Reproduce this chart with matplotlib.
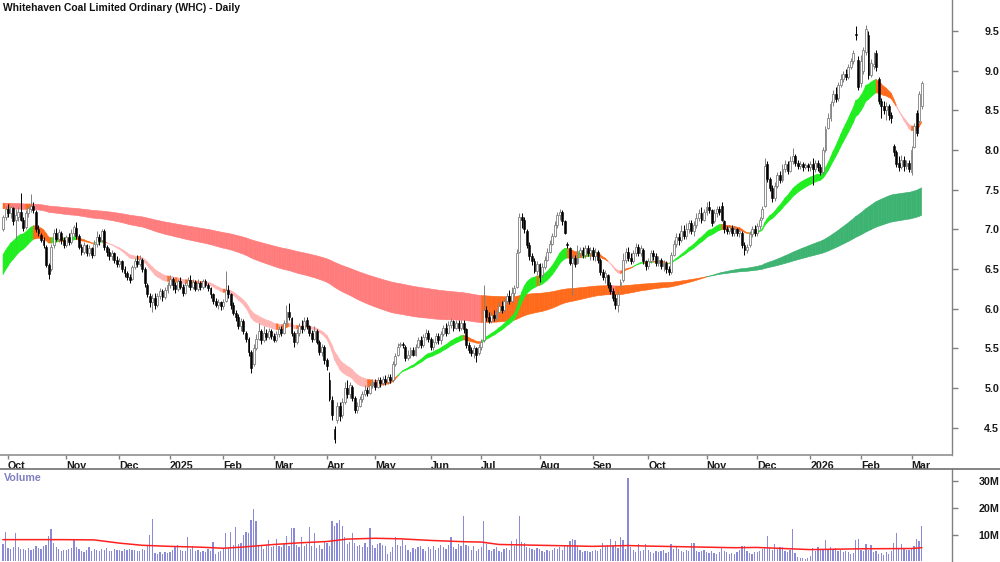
import numpy as np
import pandas as pd
import matplotlib.pyplot as plt
from matplotlib.collections import PolyCollection
from matplotlib.lines import Line2D

TITLE = "Whitehaven Coal Limited Ordinary (WHC) - Daily"
START = "2024-09-27"
END = "2026-03-06"
ASX_HOLIDAYS = ["2024-12-25", "2024-12-26", "2025-01-01", "2025-01-27", "2025-04-18",
                "2025-04-21", "2025-04-25", "2025-06-09", "2025-12-25", "2025-12-26",
                "2026-01-01", "2026-01-26"]

month_labels = ["Oct", "Nov", "Dec", "2025", "Feb", "Mar", "Apr", "May", "Jun", "Jul",
                "Aug", "Sep", "Oct", "Nov", "Dec", "2026", "Feb", "Mar"]

opens = [
    7.00, 7.15, 7.26, 7.20, 7.27, 7.12, 7.16, 7.22, 7.12, 7.03, 7.20, 7.26, 7.30,
    7.22, 7.00, 6.93, 6.86, 6.78, 6.55, 6.50, 6.80, 6.95, 6.88, 6.96, 6.86,
    6.80, 6.90, 6.84, 6.96, 7.02, 6.92, 6.78, 6.72, 6.80, 6.70, 6.76, 6.68, 6.82, 6.90, 6.86, 6.98, 6.78, 6.72, 6.66, 6.70, 6.62,
    6.56, 6.60, 6.50, 6.45, 6.40, 6.38, 6.52, 6.60, 6.56, 6.62, 6.50, 6.30, 6.16, 6.08, 6.14, 6.05, 6.16, 6.22, 6.15, 6.24,
    6.30, 6.38, 6.30, 6.25, 6.35, 6.28, 6.20, 6.30, 6.36, 6.28, 6.34, 6.25, 6.32, 6.28, 6.35, 6.30, 6.26, 6.18, 6.10, 6.05, 6.08,
    6.04, 6.10, 6.24, 6.18, 6.05, 5.95, 5.90, 5.78, 5.85, 5.70, 5.62, 5.45, 5.30, 5.50, 5.62, 5.72, 5.60, 5.70, 5.64, 5.72,
    5.66, 5.60, 5.68, 5.74, 5.70, 5.82, 5.96, 5.88, 5.70, 5.58, 5.70, 5.78, 5.74, 5.86, 5.78, 5.70, 5.62, 5.72, 5.58, 5.45, 5.52,
    5.36, 5.10, 4.85, 4.48, 4.60, 4.78, 4.66, 4.82, 5.00, 4.92, 5.02, 4.88, 4.72, 4.78, 4.86, 4.92, 4.98, 4.94, 5.04,
    5.08, 5.02, 5.10, 5.06, 5.12, 5.08, 5.14, 5.10, 5.30, 5.42, 5.54, 5.55, 5.52, 5.38, 5.42, 5.48, 5.42, 5.52, 5.60, 5.54, 5.64, 5.70,
    5.62, 5.52, 5.58, 5.66, 5.60, 5.68, 5.76, 5.70, 5.80, 5.84, 5.76, 5.82, 5.76, 5.82, 5.74, 5.54, 5.48, 5.44, 5.50, 5.44,
    5.52, 5.60, 5.98, 5.90, 5.84, 5.92, 5.88, 5.96, 6.04, 5.98, 6.10, 6.16, 6.10, 6.20, 6.28, 6.72, 7.15, 7.12, 6.98, 6.80, 6.66, 6.60, 6.48,
    6.56, 6.42, 6.52, 6.62, 6.72, 6.82, 6.92, 7.05, 7.18, 7.22, 7.10, 6.82, 6.76, 6.58, 6.64, 6.58, 6.70, 6.74, 6.68, 6.76, 6.70,
    6.74, 6.66, 6.72, 6.62, 6.46, 6.40, 6.42, 6.30, 6.22, 6.14, 6.05, 6.30, 6.36, 6.62, 6.72, 6.64, 6.60, 6.70, 6.78, 6.70, 6.74, 6.60,
    6.54, 6.60, 6.70, 6.66, 6.58, 6.62, 6.54, 6.58, 6.50, 6.46, 6.68, 6.82, 6.90, 6.86, 6.98, 6.92, 7.00, 7.08, 6.98, 7.06, 7.14, 7.20, 7.12,
    7.22, 7.28, 7.24, 7.10, 7.20, 7.26, 7.30, 7.10, 7.00, 6.98, 7.02, 6.96, 7.00, 6.95, 6.96, 6.80, 6.74, 6.80, 6.94, 7.00,
    6.96, 7.04, 7.14, 7.30, 7.82, 7.64, 7.52, 7.40, 7.55, 7.68, 7.62, 7.76, 7.82, 7.74, 7.86, 7.92, 7.84, 7.80, 7.82, 7.78, 7.81,
    7.78, 7.82, 7.76, 7.84, 7.78, 7.72, 8.00, 8.28, 8.40, 8.60, 8.70, 8.66, 8.82, 8.90, 8.96, 8.92, 9.04, 9.12, 9.46, 9.14,
    8.84, 9.00, 9.24, 9.45, 8.95, 9.06, 9.22, 8.90, 8.62, 8.55, 8.50, 8.55, 8.44, 8.05, 7.98, 7.84, 7.78, 7.88, 7.80, 7.84,
    7.72, 8.04, 8.46, 8.36, 8.55]

highs = [
    7.18, 7.30, 7.32, 7.30, 7.28, 7.26, 7.28, 7.46, 7.15, 7.24, 7.30, 7.44, 7.34,
    7.24, 7.05, 6.95, 6.90, 6.80, 6.58, 6.82, 7.00, 7.02, 7.00, 6.98, 6.90,
    6.93, 6.95, 7.00, 7.06, 7.09, 6.94, 6.82, 6.84, 6.82, 6.80, 6.78, 6.86, 6.98, 6.94, 7.00, 7.00, 6.80, 6.76, 6.74, 6.72, 6.66,
    6.64, 6.62, 6.54, 6.48, 6.44, 6.55, 6.64, 6.68, 6.68, 6.64, 6.52, 6.32, 6.20, 6.18, 6.20, 6.20, 6.26, 6.25, 6.28, 6.34,
    6.42, 6.40, 6.34, 6.38, 6.40, 6.31, 6.34, 6.40, 6.42, 6.37, 6.36, 6.38, 6.35, 6.38, 6.38, 6.33, 6.28, 6.20, 6.14, 6.12, 6.10,
    6.12, 6.47, 6.30, 6.20, 6.08, 5.99, 5.93, 5.88, 5.87, 5.72, 5.64, 5.48, 5.55, 5.68, 5.82, 5.75, 5.78, 5.74, 5.76, 5.75,
    5.70, 5.72, 5.78, 5.78, 5.86, 6.05, 6.07, 5.90, 5.72, 5.74, 5.82, 5.86, 5.90, 5.90, 5.80, 5.73, 5.78, 5.74, 5.60, 5.56, 5.54,
    5.38, 5.20, 4.90, 4.52, 4.82, 4.82, 4.88, 5.08, 5.10, 5.08, 5.04, 4.90, 4.82, 4.90, 4.96, 5.04, 5.02, 5.08, 5.12,
    5.12, 5.14, 5.14, 5.15, 5.16, 5.18, 5.18, 5.34, 5.44, 5.57, 5.58, 5.58, 5.54, 5.48, 5.52, 5.52, 5.56, 5.64, 5.66, 5.68, 5.74, 5.73,
    5.64, 5.62, 5.70, 5.70, 5.72, 5.80, 5.82, 5.84, 5.88, 5.86, 5.86, 5.86, 5.86, 5.86, 5.76, 5.58, 5.52, 5.54, 5.52, 5.56,
    5.62, 6.30, 6.04, 5.96, 5.96, 5.98, 6.00, 6.08, 6.10, 6.14, 6.20, 6.24, 6.28, 6.30, 6.75, 7.20, 7.20, 7.16, 7.00, 6.84, 6.70, 6.64, 6.60,
    6.58, 6.58, 6.66, 6.76, 6.86, 6.96, 7.10, 7.22, 7.26, 7.25, 7.12, 6.84, 6.78, 6.68, 6.68, 6.80, 6.78, 6.78, 6.80, 6.80, 6.78,
    6.78, 6.76, 6.74, 6.64, 6.50, 6.49, 6.44, 6.34, 6.26, 6.18, 6.22, 6.38, 6.70, 6.76, 6.78, 6.70, 6.74, 6.83, 6.82, 6.80, 6.76, 6.62,
    6.64, 6.74, 6.74, 6.70, 6.66, 6.64, 6.62, 6.60, 6.54, 6.72, 6.86, 6.96, 6.96, 7.06, 7.06, 7.08, 7.12, 7.12, 7.10, 7.20, 7.26, 7.28, 7.26,
    7.34, 7.36, 7.26, 7.26, 7.30, 7.30, 7.34, 7.12, 7.04, 7.06, 7.05, 7.04, 7.02, 7.02, 6.98, 6.84, 6.82, 6.98, 7.04, 7.06,
    7.08, 7.16, 7.30, 7.90, 7.86, 7.66, 7.56, 7.60, 7.72, 7.74, 7.82, 7.88, 7.86, 7.92, 8.03, 7.95, 7.88, 7.86, 7.85, 7.84, 7.84,
    7.86, 7.90, 7.88, 7.88, 7.82, 8.04, 8.30, 8.46, 8.62, 8.75, 8.80, 8.86, 8.96, 9.00, 9.02, 9.08, 9.16, 9.26, 9.56, 9.18,
    9.20, 9.30, 9.58, 9.50, 9.15, 9.24, 9.26, 8.92, 8.66, 8.62, 8.60, 8.58, 8.48, 8.08, 8.00, 7.92, 7.94, 7.92, 7.88, 7.88,
    8.05, 8.34, 8.50, 8.74, 8.87]

lows = [
    6.98, 7.12, 7.15, 7.14, 7.05, 6.88, 7.10, 7.10, 6.98, 7.00, 7.16, 7.22, 7.20,
    6.97, 6.92, 6.84, 6.76, 6.52, 6.38, 6.48, 6.76, 6.85, 6.84, 6.82, 6.76,
    6.78, 6.80, 6.82, 6.92, 6.88, 6.75, 6.68, 6.69, 6.66, 6.67, 6.64, 6.66, 6.78, 6.80, 6.84, 6.74, 6.66, 6.62, 6.62, 6.58, 6.52,
    6.52, 6.46, 6.40, 6.36, 6.33, 6.36, 6.50, 6.52, 6.54, 6.46, 6.28, 6.15, 6.02, 5.96, 6.00, 6.02, 6.12, 6.10, 6.12, 6.20,
    6.26, 6.24, 6.20, 6.22, 6.25, 6.16, 6.18, 6.27, 6.24, 6.25, 6.22, 6.22, 6.24, 6.25, 6.27, 6.22, 6.14, 6.06, 6.02, 6.00, 5.98,
    6.00, 6.08, 6.14, 6.00, 5.92, 5.85, 5.74, 5.72, 5.68, 5.58, 5.40, 5.19, 5.28, 5.48, 5.60, 5.55, 5.58, 5.60, 5.62, 5.62,
    5.58, 5.58, 5.64, 5.66, 5.68, 5.80, 5.86, 5.66, 5.52, 5.55, 5.66, 5.70, 5.72, 5.74, 5.66, 5.58, 5.60, 5.55, 5.42, 5.40, 5.30,
    5.23, 4.84, 4.60, 4.31, 4.56, 4.58, 4.62, 4.80, 4.88, 4.88, 4.84, 4.68, 4.68, 4.76, 4.82, 4.90, 4.90, 4.92, 5.00,
    4.98, 5.00, 5.02, 5.04, 5.04, 5.05, 5.06, 5.08, 5.28, 5.40, 5.52, 5.50, 5.34, 5.35, 5.38, 5.40, 5.40, 5.50, 5.50, 5.52, 5.60, 5.58,
    5.48, 5.48, 5.55, 5.56, 5.56, 5.66, 5.66, 5.68, 5.76, 5.72, 5.74, 5.72, 5.73, 5.70, 5.50, 5.44, 5.40, 5.38, 5.33, 5.42,
    5.48, 5.58, 5.85, 5.82, 5.82, 5.84, 5.86, 5.94, 5.95, 5.96, 6.06, 6.06, 6.08, 6.16, 6.26, 6.70, 7.02, 6.96, 6.76, 6.62, 6.55, 6.45, 6.42,
    6.34, 6.40, 6.50, 6.60, 6.70, 6.80, 6.90, 7.02, 7.12, 7.06, 6.94, 6.76, 6.55, 6.17, 6.52, 6.56, 6.66, 6.64, 6.64, 6.66, 6.62,
    6.62, 6.60, 6.58, 6.42, 6.36, 6.33, 6.26, 6.18, 6.10, 6.00, 5.96, 6.28, 6.34, 6.58, 6.60, 6.56, 6.58, 6.66, 6.66, 6.66, 6.56, 6.49,
    6.50, 6.58, 6.62, 6.54, 6.54, 6.50, 6.48, 6.45, 6.42, 6.44, 6.66, 6.78, 6.80, 6.84, 6.88, 6.88, 6.96, 6.94, 6.92, 7.02, 7.10, 7.08, 7.10,
    7.18, 7.20, 7.04, 7.08, 7.16, 7.18, 7.10, 6.96, 6.94, 6.94, 6.92, 6.92, 6.92, 6.90, 6.76, 6.68, 6.70, 6.78, 6.90, 6.92,
    6.92, 7.00, 7.12, 7.28, 7.60, 7.48, 7.34, 7.36, 7.52, 7.58, 7.60, 7.72, 7.70, 7.72, 7.82, 7.80, 7.76, 7.76, 7.74, 7.76, 7.74,
    7.74, 7.56, 7.72, 7.74, 7.68, 7.70, 7.98, 8.26, 8.36, 8.56, 8.60, 8.62, 8.80, 8.86, 8.88, 8.90, 9.02, 9.08, 9.38, 8.76,
    8.80, 8.96, 9.20, 8.90, 8.92, 9.02, 9.00, 8.58, 8.40, 8.45, 8.38, 8.38, 8.34, 7.92, 7.78, 7.74, 7.76, 7.74, 7.76, 7.72,
    7.68, 8.02, 8.18, 8.34, 8.52]

closes = [
    7.15, 7.26, 7.20, 7.28, 7.10, 7.18, 7.22, 7.12, 7.02, 7.20, 7.27, 7.30, 7.24,
    7.00, 6.95, 6.87, 6.80, 6.55, 6.44, 6.78, 6.95, 6.88, 6.97, 6.86, 6.80,
    6.90, 6.84, 6.96, 7.03, 6.92, 6.78, 6.72, 6.80, 6.70, 6.76, 6.68, 6.82, 6.90, 6.85, 6.98, 6.78, 6.72, 6.66, 6.70, 6.62, 6.56,
    6.60, 6.50, 6.45, 6.40, 6.36, 6.52, 6.60, 6.56, 6.63, 6.50, 6.32, 6.18, 6.08, 6.14, 6.05, 6.16, 6.22, 6.15, 6.24, 6.30,
    6.38, 6.30, 6.25, 6.35, 6.28, 6.20, 6.30, 6.36, 6.28, 6.34, 6.25, 6.32, 6.28, 6.35, 6.30, 6.26, 6.18, 6.10, 6.05, 6.08, 6.04,
    6.08, 6.24, 6.18, 6.05, 5.95, 5.90, 5.78, 5.85, 5.72, 5.62, 5.45, 5.25, 5.50, 5.62, 5.72, 5.60, 5.70, 5.64, 5.72, 5.66,
    5.60, 5.68, 5.74, 5.70, 5.82, 5.96, 5.90, 5.70, 5.58, 5.70, 5.78, 5.74, 5.85, 5.78, 5.70, 5.62, 5.72, 5.58, 5.45, 5.52, 5.36,
    5.28, 4.86, 4.66, 4.36, 4.78, 4.65, 4.82, 5.00, 4.92, 5.04, 4.88, 4.72, 4.78, 4.86, 4.92, 4.98, 4.94, 5.04, 5.08,
    5.02, 5.10, 5.06, 5.12, 5.08, 5.14, 5.10, 5.30, 5.40, 5.52, 5.55, 5.54, 5.38, 5.42, 5.48, 5.42, 5.52, 5.60, 5.54, 5.64, 5.70, 5.62,
    5.52, 5.58, 5.66, 5.60, 5.68, 5.76, 5.70, 5.80, 5.84, 5.76, 5.82, 5.76, 5.82, 5.74, 5.54, 5.48, 5.44, 5.50, 5.42, 5.52,
    5.58, 5.98, 5.90, 5.84, 5.92, 5.88, 5.96, 6.04, 5.98, 6.10, 6.16, 6.10, 6.20, 6.26, 6.70, 7.15, 7.12, 7.00, 6.80, 6.66, 6.60, 6.48, 6.56,
    6.40, 6.52, 6.62, 6.72, 6.82, 6.92, 7.05, 7.18, 7.22, 7.10, 6.96, 6.80, 6.58, 6.64, 6.56, 6.70, 6.74, 6.68, 6.76, 6.70, 6.74,
    6.66, 6.72, 6.62, 6.46, 6.40, 6.45, 6.30, 6.22, 6.14, 6.05, 6.18, 6.34, 6.62, 6.72, 6.64, 6.60, 6.70, 6.78, 6.70, 6.76, 6.60, 6.54,
    6.60, 6.70, 6.66, 6.58, 6.62, 6.54, 6.58, 6.50, 6.46, 6.68, 6.82, 6.90, 6.86, 6.98, 6.92, 7.00, 7.08, 6.98, 7.06, 7.14, 7.20, 7.12, 7.22,
    7.28, 7.24, 7.08, 7.20, 7.26, 7.22, 7.12, 7.00, 6.98, 7.03, 6.96, 7.00, 6.95, 6.98, 6.80, 6.74, 6.78, 6.94, 7.00, 6.96,
    7.04, 7.12, 7.26, 7.80, 7.64, 7.52, 7.40, 7.55, 7.68, 7.62, 7.76, 7.82, 7.74, 7.86, 7.92, 7.84, 7.80, 7.82, 7.78, 7.81, 7.78,
    7.82, 7.76, 7.84, 7.78, 7.72, 8.00, 8.26, 8.40, 8.58, 8.70, 8.64, 8.82, 8.90, 8.96, 8.92, 9.04, 9.12, 9.22, 9.45, 8.80,
    9.12, 9.26, 9.52, 8.95, 9.10, 9.08, 9.04, 8.62, 8.55, 8.50, 8.56, 8.44, 8.40, 7.98, 7.82, 7.78, 7.88, 7.80, 7.84, 7.76,
    8.00, 8.30, 8.22, 8.70, 8.84]

# volume in millions of shares
volumes = [
    6.5, 11.0, 5.0, 4.8, 5.2, 10.4, 5.5, 4.6, 4.8, 4.2, 5.0, 4.4, 4.8, 5.6, 5.0, 4.6, 5.8, 6.2, 9.6, 12.2, 7.0, 5.4, 4.6, 4.0, 4.4,
    4.2, 4.8, 5.0, 7.8, 5.4, 4.6, 4.0, 3.6, 4.4, 5.2, 4.0, 4.8, 4.2, 3.8, 4.6, 4.4, 5.0, 4.0, 3.8, 4.6, 4.2,
    4.4, 4.0, 4.6, 4.2, 4.8, 4.2, 4.4, 4.0, 3.8, 4.6, 4.2, 5.8, 10.0, 15.6, 3.2, 2.6, 3.4, 2.8, 3.6, 3.0,
    3.4, 4.2, 5.4, 6.0, 4.4, 3.8, 4.0, 8.9, 4.8, 5.6, 3.8, 4.4, 3.6, 4.0, 3.4, 4.6, 3.8, 7.4, 2.8, 3.6, 4.0,
    4.6, 10.7, 5.0, 11.0, 6.0, 12.6, 6.4, 6.8, 10.0, 11.0, 10.7, 15.2, 19.3, 14.9, 6.2, 5.8, 4.8, 6.0, 8.1, 5.4,
    5.6, 8.5, 5.8, 5.2, 6.4, 9.6, 5.8, 12.3, 12.3, 6.0, 5.2, 8.9, 5.6, 6.4, 12.6, 5.8, 10.6, 5.0, 6.2, 4.8, 7.6,
    6.8, 5.6, 14.9, 13.3, 14.2, 15.4, 13.0, 9.0, 6.4, 7.2, 10.4, 6.8, 5.6, 6.0, 5.2, 7.0, 5.4, 12.3, 6.2,
    5.0, 6.6, 7.0, 6.0, 5.8, 2.8, 3.4, 5.4, 8.9, 6.2, 5.8, 8.1, 6.0, 4.4, 3.6, 5.0, 4.6, 5.2, 5.8, 4.6, 3.8, 5.4,
    4.8, 5.6, 4.2, 5.0, 6.2, 5.4, 4.6, 6.0, 8.9, 5.2, 4.8, 6.4, 5.8, 16.7, 6.2, 5.6, 4.4, 5.8, 3.8, 4.6,
    5.4, 15.0, 6.4, 4.2, 3.8, 4.6, 5.2, 4.0, 3.6, 4.8, 5.0, 4.4, 7.6, 5.6, 8.2, 16.7, 7.4, 6.8, 5.4, 5.0, 4.6, 4.2, 5.0,
    4.6, 4.0, 3.6, 4.2, 3.8, 4.4, 5.0, 4.6, 5.2, 4.4, 5.8, 6.0, 7.5, 8.4, 8.0, 5.6, 4.2, 3.4, 3.8, 4.0, 3.6,
    4.0, 4.4, 3.8, 4.8, 6.9, 5.2, 6.0, 8.4, 5.6, 7.6, 5.0, 9.1, 8.0, 4.8, 31.1, 5.4, 4.2, 3.6, 6.6, 4.0, 4.4, 6.3,
    4.2, 3.6, 3.0, 4.0, 3.4, 3.8, 4.4, 3.2, 3.6, 6.3, 4.8, 5.4, 4.6, 4.0, 3.6, 4.2, 3.8, 7.0, 6.8, 4.0, 3.4, 3.8, 4.2,
    3.6, 3.2, 4.0, 3.0, 2.8, 3.4, 5.2, 4.0, 3.4, 2.6, 3.0, 2.8, 3.6, 4.2, 5.9, 5.9, 4.0, 3.2, 2.8, 3.4,
    3.6, 4.0, 4.6, 5.4, 9.6, 5.0, 4.4, 6.6, 4.8, 5.2, 5.2, 4.0, 3.6, 4.2, 11.9, 3.0, 1.6, 1.4, 1.2, 1.0, 1.4,
    2.2, 5.0, 4.0, 5.4, 4.2, 4.6, 7.8, 4.8, 5.4, 4.6, 5.0, 3.8, 4.4, 3.6, 4.0, 3.4, 2.6, 3.0, 7.8, 8.5,
    4.4, 3.8, 6.6, 4.2, 6.1, 3.6, 4.0, 2.8, 3.2, 2.4, 3.6, 2.6, 3.8, 7.0, 10.4, 4.6, 6.3, 5.0, 4.2, 4.4,
    4.8, 5.6, 8.5, 7.6, 13.3]

# volume average line at these bars
vol_avg_bars = [0, 24, 36, 46, 55, 66, 78, 87, 94, 107, 117, 128, 136, 147, 157, 169, 183,
                189, 196, 212, 223, 233, 247, 255, 278, 289, 298, 311, 319, 339, 359, 363]
vol_avg_vals = [8.1, 8.1, 8.0, 6.8, 6.0, 5.6, 5.3, 4.9, 5.3, 6.3, 6.9, 7.4, 8.3, 8.6, 8.4, 7.8, 7.3,
                7.2, 6.3, 6.0, 5.8, 5.6, 5.9, 5.7, 5.3, 5.1, 5.2, 4.7, 4.4, 4.7, 4.8, 5.1]

# moving average ribbons: periods and starting levels at the first bar
SHORT_FAST, SHORT_SLOW = 20, 28
SHORT_SEED = (6.68, 6.43)
LONG_FAST, LONG_SLOW = 160, 270
LONG_SEED = (7.26, 7.33)

price_ticks = [4.5, 5.0, 5.5, 6.0, 6.5, 7.0, 7.5, 8.0, 8.5, 9.0, 9.5]
vol_ticks = [10, 20, 30]

ORANGE = "#ff6a1a"
SHORT_COLORS = ("#1eee1e", "#ffb4b4", ORANGE)
LONG_COLORS = ("#3cb371", "#ff7c7c", ORANGE)

plt.rcParams["font.family"] = ["Liberation Sans", "DejaVu Sans"]
plt.rcParams["font.weight"] = "bold"


def ema(values, period, seed):
    alpha = 2.0 / (period + 1)
    out = np.empty(len(values))
    out[0] = seed
    for i in range(1, len(values)):
        out[i] = out[i - 1] + alpha * (values[i] - out[i - 1])
    return out


def draw_band(ax, fast, slow, colors):
    up, down, mixed = colors
    polys, cols = [], []
    for i in range(len(fast) - 1):
        rising = fast[i + 1] >= fast[i]
        if fast[i + 1] > slow[i + 1] and rising:
            c = up
        elif fast[i + 1] < slow[i + 1] and not rising:
            c = down
        else:
            c = mixed
        polys.append([(i, fast[i]), (i + 1, fast[i + 1]), (i + 1, slow[i + 1]), (i, slow[i])])
        cols.append(c)
    ax.add_collection(PolyCollection(polys, facecolors=cols, edgecolors=cols,
                                     linewidths=0.4, zorder=1))


o = np.array(opens)
h = np.array(highs)
l = np.array(lows)
c = np.array(closes)
v = np.array(volumes)
n = len(c)
x = np.arange(n)

dates = pd.bdate_range(START, END, freq="C", holidays=ASX_HOLIDAYS)[:n]
month_pos = [i for i in range(1, len(dates)) if dates[i].month != dates[i - 1].month]

fig = plt.figure(figsize=(10, 5.62), dpi=100)
H = 562.0
ax = fig.add_axes([0, 1 - 455 / H, 0.952, 455 / H])
axv = fig.add_axes([0, 0, 0.952, 93 / H])

draw_band(ax, ema(c, LONG_FAST, LONG_SEED[0]), ema(c, LONG_SLOW, LONG_SEED[1]), LONG_COLORS)
draw_band(ax, ema(c, SHORT_FAST, SHORT_SEED[0]), ema(c, SHORT_SLOW, SHORT_SEED[1]), SHORT_COLORS)

up = c >= o
body = np.maximum(np.abs(c - o), 0.008)
bottom = np.minimum(o, c)
ax.vlines(x[up], l[up], h[up], color="#808080", lw=0.7, zorder=3)
ax.vlines(x[~up], l[~up], h[~up], color="#000000", lw=0.7, zorder=3)
ax.bar(x[up], body[up], bottom=bottom[up], width=0.75, color="white",
       edgecolor="#808080", lw=0.6, zorder=4)
ax.bar(x[~up], body[~up], bottom=bottom[~up], width=0.75, color="black",
       edgecolor="black", lw=0.4, zorder=4)

ax.set_xlim(-1.2, 375)
ax.set_ylim(4.157, 9.89)
ax.yaxis.tick_right()
ax.set_yticks(price_ticks)
ax.set_yticklabels(["%.1f" % t for t in price_ticks])
ax.set_xticks(month_pos)
ax.set_xticklabels(month_labels[:len(month_pos)])
ax.tick_params(axis="y", direction="out", length=4, width=1, color="#808080",
               labelsize=7.7, pad=30, labelcolor="#1a1a1a")
ax.tick_params(axis="x", direction="out", length=3, width=1, color="#808080",
               labelsize=7.7, pad=1, labelcolor="#1a1a1a")
for lbl in ax.get_yticklabels():
    lbl.set_horizontalalignment("right")
for lbl in ax.get_xticklabels():
    lbl.set_horizontalalignment("left")
for s in ["top", "left"]:
    ax.spines[s].set_visible(False)
ax.spines["bottom"].set_color("#909090")
ax.spines["bottom"].set_linewidth(1.2)
ax.spines["right"].set_color("#808080")
ax.spines["right"].set_linewidth(1.0)

axv.bar(x, v, width=0.5, color="#8a8ad8", lw=0, zorder=2)
axv.plot(vol_avg_bars, vol_avg_vals, color="#ff2020", lw=1.1, zorder=3)
axv.set_xlim(-1.2, 375)
axv.set_ylim(-0.2, 34.3)
axv.yaxis.tick_right()
axv.set_yticks(vol_ticks)
axv.set_yticklabels(["%dM" % t for t in vol_ticks])
axv.set_xticks([])
axv.tick_params(axis="y", direction="out", length=4, width=1, color="#808080",
                labelsize=7.7, pad=30, labelcolor="#1a1a1a")
for lbl in axv.get_yticklabels():
    lbl.set_horizontalalignment("right")
for s in ["top", "left", "bottom"]:
    axv.spines[s].set_visible(False)
axv.spines["right"].set_color("#808080")
axv.spines["right"].set_linewidth(1.0)

fig.add_artist(Line2D([0, 1], [93 / H, 93 / H], transform=fig.transFigure,
                      color="#707070", lw=1.2))
fig.text(0.003, 1 - 8 / H, TITLE, ha="left", va="center", fontsize=7.4,
         fontweight="bold", color="#111111")
fig.text(0.004, 1 - 478 / H, "Volume", ha="left", va="center", fontsize=7.7,
         fontweight="bold", color="#8080c0")

fig.savefig("out.png", dpi=100)
